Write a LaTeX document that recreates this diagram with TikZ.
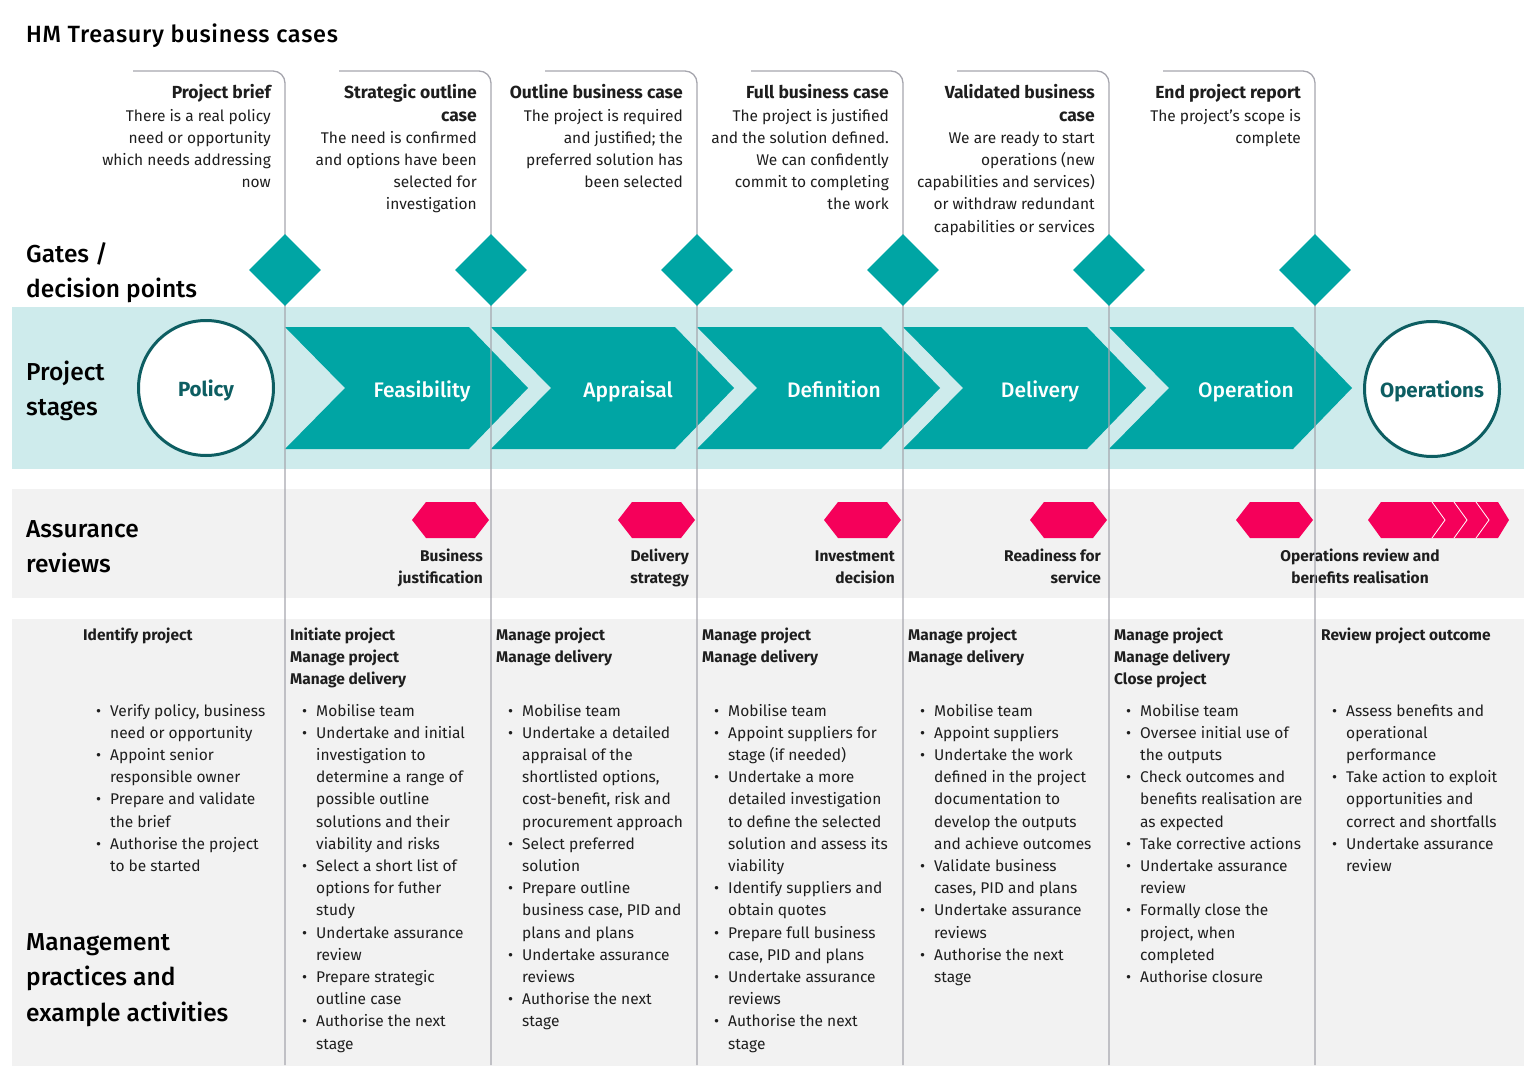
\documentclass[tikz,border=0pt]{standalone}
\usepackage{fontspec}
\setmainfont{Fira Sans}
\newfontfamily\hmmed{Fira Sans Medium}
\newfontfamily\hmtitle{Fira Sans Medium}[LetterSpace=3]
\usetikzlibrary{shapes.geometric}

\definecolor{hmteal}{HTML}{00A5A4}
\definecolor{hmband}{HTML}{CEEBEC}
\definecolor{hmdark}{HTML}{0D5E62}
\definecolor{hmpink}{HTML}{F5005A}
\definecolor{hmgrey}{HTML}{F2F2F2}
\definecolor{hmline}{HTML}{A6A6AE}
\definecolor{hmtext}{HTML}{1E1E1E}

\newcommand{\hmbody}{\fontsize{15.5}{22.2}\selectfont}
\newcommand{\casehead}[1]{{\bfseries\fontsize{17.5}{22.2}\selectfont #1}}
\newcommand{\rlines}[1]{\begin{tabular}[t]{@{}r@{}}#1\end{tabular}}
\newcommand{\llines}[1]{\begin{tabular}[t]{@{}l@{}}#1\end{tabular}}
\newcommand{\blist}[1]{\begin{tabular}[t]{@{}p{14pt}@{}l@{}}#1\end{tabular}}
\newcommand{\bitem}[1]{\textbullet & #1\\}
\newcommand{\cont}{\\ &}

\begin{document}
\begin{tikzpicture}[x=1pt, y=-1pt,
  gateline/.style={draw=hmline, line width=1.3pt, rounded corners=12pt},
  gate/.style={diamond, fill=hmteal, minimum width=72pt, minimum height=72pt, inner sep=0pt},
  gatetxt/.style={anchor=base east, inner sep=0pt, font=\hmbody, text=hmtext},
  stagetxt/.style={anchor=base, inner sep=0pt, font=\hmmed\fontsize{21}{25}\selectfont, text=white},
  endstage/.style={circle, draw=hmdark, line width=3pt, fill=white, minimum size=135pt, inner sep=0pt, text depth=0pt, font=\bfseries\fontsize{20.5}{24}\selectfont, text=hmdark},
  section/.style={anchor=base west, inner sep=0pt, font=\hmmed\fontsize{24.5}{35.5}\selectfont, text=black},
  revtxt/.style={anchor=base east, inner sep=0pt, font=\bfseries\hmbody, text=hmtext},
  mgmthead/.style={anchor=base west, inner sep=0pt, font=\bfseries\hmbody, text=hmtext},
  mgmtlist/.style={anchor=base west, inner sep=0pt, font=\hmbody, text=hmtext}]

\useasboundingbox (0,0) rectangle (1536,1086);

% bands
\fill[hmband] (12,307) rectangle (1524,469);
\fill[hmgrey] (12,489) rectangle (1524,598);
\fill[hmgrey] (12,619) rectangle (1524,1066);

% project stages
\foreach \cx/\lab [count=\i] in {285/Feasibility,491/Appraisal,697/Definition,903/Delivery,1109/Operation} {
  \fill[hmteal] (\cx,327) -- (\cx+184,327) -- (\cx+243,388) -- (\cx+184,449) -- (\cx,449) -- (\cx+60,388) -- cycle;
  \node[stagetxt] (stage\i) at (\cx+137,397) {\lab};
}
\node[endstage] (policy) at (206,388) {Policy};
\node[endstage] (ops) at (1432,389) {Operations};

% assurance reviews
\foreach \hx in {489,695,901,1107,1313}
  \fill[hmpink] (\hx,520) -- (\hx-14,502) -- (\hx-63,502) -- (\hx-77,520) -- (\hx-63,538) -- (\hx-14,538) -- cycle;
\fill[hmpink] (1368,520) -- (1381,502) -- (1498,502) -- (1509,520) -- (1498,538) -- (1381,538) -- cycle;
\foreach \vx in {1432,1454,1476}
  \draw[white, line width=0.8pt] (\vx,502) -- (\vx+13,520) -- (\vx,538);

\node[revtxt] (rev1) at (483,561) {\rlines{Business\\justification}};
\node[revtxt] (rev2) at (689,561) {\rlines{Delivery\\strategy}};
\node[revtxt] (rev3) at (895,561) {\rlines{Investment\\decision}};
\node[revtxt] (rev4) at (1101,561) {\rlines{Readiness for\\service}};
\node[revtxt, anchor=base] (rev5) at (1360,561) {\begin{tabular}[t]{@{}c@{}}Operations review and\\benefits realisation\end{tabular}};

% section labels
\node[anchor=base west, inner sep=0pt, font=\hmtitle\fontsize{23.5}{26}\selectfont] (title) at (26,43) {HM Treasury business cases};
\node[section] (lgates) at (26,262) {\llines{Gates /\\decision points}};
\node[section] (lstages) at (26,380) {\llines{Project\\stages}};
\node[section] (lassure) at (26,537) {\llines{Assurance\\reviews}};
\node[section] (lmgmt) at (26,950) {\llines{Management\\practices and\\example activities}};

% business cases at the gates
\node[gatetxt] (case1) at (271,99) {\rlines{\casehead{Project brief}\\There is a real policy\\need or opportunity\\which needs addressing\\now}};
\node[gatetxt] (case2) at (477,99) {\rlines{\casehead{Strategic outline}\\\casehead{case}\\The need is confirmed\\and options have been\\selected for\\investigation}};
\node[gatetxt] (case3) at (683,99) {\rlines{\casehead{Outline business case}\\The project is required\\and justified; the\\preferred solution has\\been selected}};
\node[gatetxt] (case4) at (889,99) {\rlines{\casehead{Full business case}\\The project is justified\\and the solution defined.\\We can confidently\\commit to completing\\the work}};
\node[gatetxt] (case5) at (1095,99) {\rlines{\casehead{Validated business}\\\casehead{case}\\We are ready to start\\operations (new\\capabilities and services)\\or withdraw redundant\\capabilities or services}};
\node[gatetxt] (case6) at (1301,99) {\rlines{\casehead{End project report}\\The project’s scope is\\complete}};

% management practices
\node[mgmthead] (head1) at (83,640) {\llines{Identify project}};
\node[mgmthead] (head2) at (290,640) {\llines{Initiate project\\Manage project\\Manage delivery}};
\node[mgmthead] (head3) at (496,640) {\llines{Manage project\\Manage delivery}};
\node[mgmthead] (head4) at (702,640) {\llines{Manage project\\Manage delivery}};
\node[mgmthead] (head5) at (908,640) {\llines{Manage project\\Manage delivery}};
\node[mgmthead] (head6) at (1114,640) {\llines{Manage project\\Manage delivery\\Close project}};
\node[mgmthead] (head7) at (1321,640) {\llines{Review project outcome}};

\node[mgmtlist] (list1) at (96,716) {\blist{
  \bitem{Verify policy, business\cont need or opportunity}
  \bitem{Appoint senior\cont responsible owner}
  \bitem{Prepare and validate\cont the brief}
  \bitem{Authorise the project\cont to be started}}};
\node[mgmtlist] (list2) at (302,716) {\blist{
  \bitem{Mobilise team}
  \bitem{Undertake and initial\cont investigation to\cont determine a range of\cont possible outline\cont solutions and their\cont viability and risks}
  \bitem{Select a short list of\cont options for futher\cont study}
  \bitem{Undertake assurance\cont review}
  \bitem{Prepare strategic\cont outline case}
  \bitem{Authorise the next\cont stage}}};
\node[mgmtlist] (list3) at (508,716) {\blist{
  \bitem{Mobilise team}
  \bitem{Undertake a detailed\cont appraisal of the\cont shortlisted options,\cont cost-benefit, risk and\cont procurement approach}
  \bitem{Select preferred\cont solution}
  \bitem{Prepare outline\cont business case, PID and\cont plans and plans}
  \bitem{Undertake assurance\cont reviews}
  \bitem{Authorise the next\cont stage}}};
\node[mgmtlist] (list4) at (714,716) {\blist{
  \bitem{Mobilise team}
  \bitem{Appoint suppliers for\cont stage (if needed)}
  \bitem{Undertake a more\cont detailed investigation\cont to define the selected\cont solution and assess its\cont viability}
  \bitem{Identify suppliers and\cont obtain quotes}
  \bitem{Prepare full business\cont case, PID and plans}
  \bitem{Undertake assurance\cont reviews}
  \bitem{Authorise the next\cont stage}}};
\node[mgmtlist] (list5) at (920,716) {\blist{
  \bitem{Mobilise team}
  \bitem{Appoint suppliers}
  \bitem{Undertake the work\cont defined in the project\cont documentation to\cont develop the outputs\cont and achieve outcomes}
  \bitem{Validate business\cont cases, PID and plans}
  \bitem{Undertake assurance\cont reviews}
  \bitem{Authorise the next\cont stage}}};
\node[mgmtlist] (list6) at (1126,716) {\blist{
  \bitem{Mobilise team}
  \bitem{Oversee initial use of\cont the outputs}
  \bitem{Check outcomes and\cont benefits realisation are\cont as expected}
  \bitem{Take corrective actions}
  \bitem{Undertake assurance\cont review}
  \bitem{Formally close the\cont project, when\cont completed}
  \bitem{Authorise closure}}};
\node[mgmtlist] (list7) at (1332,716) {\blist{
  \bitem{Assess benefits and\cont operational\cont performance}
  \bitem{Take action to exploit\cont opportunities and\cont correct and shortfalls}
  \bitem{Undertake assurance\cont review}}};

% gate lines and decision points
\foreach \gx [count=\i] in {285,491,697,903,1109,1315} {
  \coordinate (top\i) at (\gx-152,71);
  \coordinate (bend\i) at (\gx,71);
  \coordinate (foot\i) at (\gx,1065);
  \draw[gateline] (top\i) -- (bend\i) -- (foot\i);
  \node[gate] (gate\i) at (\gx,270) {};
}

\end{tikzpicture}
\end{document}
